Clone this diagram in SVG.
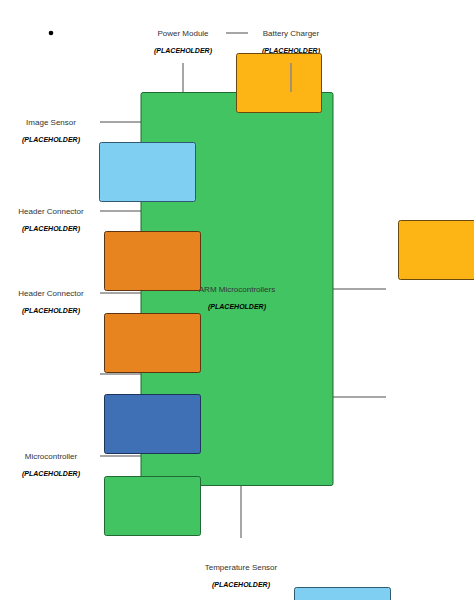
<svg xmlns="http://www.w3.org/2000/svg" width="474" height="600" viewBox="0 0 474 600">
<style>
.lbl{font-family:"Liberation Sans",Arial,sans-serif;font-size:8px;fill:#333;text-anchor:middle;dominant-baseline:central}
.ph{font-family:"Liberation Sans",Arial,sans-serif;font-size:7px;font-weight:bold;font-style:italic;fill:#000;text-anchor:middle;dominant-baseline:central}
.ln{stroke:#888;stroke-width:1.5;fill:none}
.box{stroke-width:1}
</style>
<rect width="474" height="600" fill="#fff"/>
<circle cx="51" cy="33" r="2.3" fill="#000"/>
<g id="connectors">
<line class="ln" x1="226" y1="33" x2="248" y2="33"/>
<line class="ln" x1="183" y1="63" x2="183" y2="92"/>
<line class="ln" x1="291" y1="63" x2="291" y2="92"/>
<line class="ln" x1="100" y1="122" x2="141" y2="122"/>
<line class="ln" x1="100" y1="211" x2="141" y2="211"/>
<line class="ln" x1="100" y1="293" x2="141" y2="293"/>
<line class="ln" x1="100" y1="374" x2="141" y2="374"/>
<line class="ln" x1="100" y1="456" x2="141" y2="456"/>
<line class="ln" x1="333" y1="289" x2="386" y2="289"/>
<line class="ln" x1="333" y1="397" x2="386" y2="397"/>
<line class="ln" x1="241" y1="485" x2="241" y2="538"/>
</g>
<g id="arm">
<rect class="box" x="141" y="92.5" width="192" height="393" rx="2" fill="#43C463" stroke="#1f6b33"/>
<text class="lbl" x="237" y="289">ARM Microcontrollers</text>
<text class="ph" x="237" y="306">(PLACEHOLDER)</text>
</g>
<g id="power-module">
<text class="lbl" x="183" y="33">Power Module</text>
<text class="ph" x="183" y="50">(PLACEHOLDER)</text>
</g>
<g id="battery-charger">
<text class="lbl" x="291" y="33">Battery Charger</text>
<text class="ph" x="291" y="50">(PLACEHOLDER)</text>
<rect class="box" x="236.5" y="53.5" width="85" height="59" rx="2" fill="#FDB515" stroke="#6b4a10"/>
<line class="ln" x1="291" y1="63" x2="291" y2="92"/>
</g>
<g id="image-sensor">
<text class="lbl" x="51" y="122">Image Sensor</text>
<text class="ph" x="51" y="139">(PLACEHOLDER)</text>
<rect class="box" x="99.5" y="142.5" width="96" height="59" rx="2" fill="#7FCFF2" stroke="#2f5a70"/>
</g>
<g id="header-connector-1">
<text class="lbl" x="51" y="211">Header Connector</text>
<text class="ph" x="51" y="228">(PLACEHOLDER)</text>
<rect class="box" x="104.5" y="231.5" width="96" height="59" rx="2" fill="#E8841F" stroke="#5e3510"/>
</g>
<g id="header-connector-2">
<text class="lbl" x="51" y="293">Header Connector</text>
<text class="ph" x="51" y="310">(PLACEHOLDER)</text>
<rect class="box" x="104.5" y="313.5" width="96" height="59" rx="2" fill="#E8841F" stroke="#5e3510"/>
</g>
<g id="blue-node">
<rect class="box" x="104.5" y="394.5" width="96" height="59" rx="2" fill="#3F6FB5" stroke="#1c3558"/>
</g>
<g id="microcontroller">
<text class="lbl" x="51" y="456">Microcontroller</text>
<text class="ph" x="51" y="473">(PLACEHOLDER)</text>
<rect class="box" x="104.5" y="476.5" width="96" height="59" rx="2" fill="#43C463" stroke="#1f6b33"/>
</g>
<g id="right-yellow">
<rect class="box" x="398.5" y="220.5" width="90" height="59" rx="2" fill="#FDB515" stroke="#6b4a10"/>
</g>
<g id="temperature-sensor">
<text class="lbl" x="241" y="567">Temperature Sensor</text>
<text class="ph" x="241" y="584">(PLACEHOLDER)</text>
<rect class="box" x="294.5" y="587.5" width="96" height="30" rx="2" fill="#7FCFF2" stroke="#2f5a70"/>
</g>
</svg>
